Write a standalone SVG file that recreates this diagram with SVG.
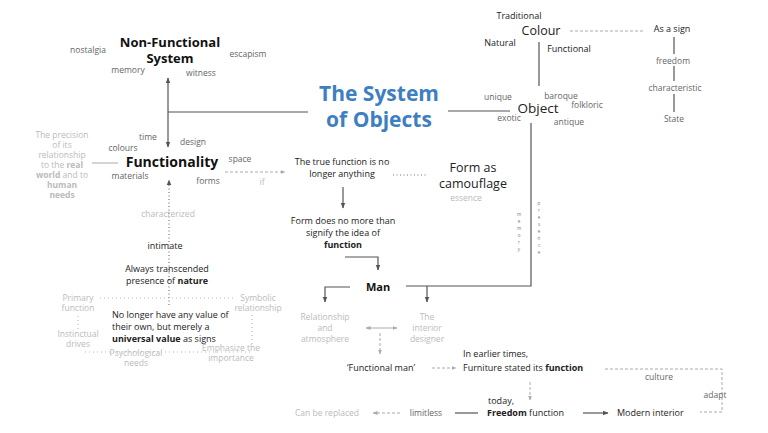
<svg xmlns="http://www.w3.org/2000/svg" width="768" height="433" viewBox="0 0 768 433">
<defs>
<marker id="a" viewBox="0 0 10 10" refX="9" refY="5" markerWidth="5" markerHeight="5" orient="auto-start-reverse"><path d="M0,1 L10,5 L0,9 z" fill="#555"/></marker>
<marker id="al" viewBox="0 0 10 10" refX="9" refY="5" markerWidth="5" markerHeight="5" orient="auto-start-reverse"><path d="M0,1 L10,5 L0,9 z" fill="#aaa"/></marker>
</defs>
<style>
text{font-family:"Open Sans",Inter,"Liberation Sans",sans-serif;text-anchor:middle}
.d{fill:#222;font-size:9px}.m{fill:#666;font-size:8.5px}.l{fill:#bbb;font-size:8.5px}.s{fill:#777;font-size:4.5px}
.b{font-weight:bold}.L{text-anchor:start}
.ln{stroke:#555;stroke-width:1.2;fill:none}.lg{stroke:#aaa;stroke-width:1;fill:none}
.dot{stroke:#777;stroke-width:1.2;stroke-dasharray:1 2.5;fill:none}.dotl{stroke:#bbb;stroke-width:1.2;stroke-dasharray:1 3;fill:none}
.dash{stroke:#aaa;stroke-width:1;stroke-dasharray:3 2;fill:none}
</style>
<rect width="768" height="433" fill="#fff"/>
<g id="connectors">
<path class="ln" d="M308,112 H168"/>
<path class="ln" d="M168,112 V78" marker-end="url(#a)"/>
<path class="ln" d="M168,112 V147" marker-end="url(#a)"/>
<path class="ln" d="M448,111 H510"/>
<path class="lg" d="M92,163 H118"/>
<path class="dash" d="M225,172 H285" marker-end="url(#al)"/>
<path class="dot" d="M169,305 V180" marker-end="url(#a)"/>
<path class="dotl" d="M100,298 H235 M78,316 V330 M85,352 H250 M252,315 V345"/>
<path class="dot" d="M393,175 H427"/>
<path class="ln" d="M343,187 V208" marker-end="url(#a)"/>
<path class="ln" d="M345,257 H378 V270" marker-end="url(#a)"/>
<path class="ln" d="M406,286 H531 V123"/>
<path class="ln" d="M427,286 V302" marker-end="url(#a)"/>
<path class="ln" d="M350,287 H325 V302" marker-end="url(#a)"/>
<path class="lg" d="M366,328 H397" marker-start="url(#al)" marker-end="url(#al)"/>
<path class="dash" d="M380,333 V354" marker-end="url(#al)"/>
<path class="dash" d="M432,368 H456" marker-end="url(#al)"/>
<path class="dash" d="M605,369 H722 V412 H700"/>
<path class="dash" d="M530,382 V400" marker-end="url(#al)"/>
<path class="ln" d="M583,413 H608" marker-end="url(#a)"/>
<path class="ln" d="M455,413 H478"/>
<path class="dash" d="M400,413 H373" marker-end="url(#al)"/>
<path class="ln" d="M539,42 V86"/>
<path class="dash" d="M570,31 H645"/>
<path class="ln" d="M674,37 V54 M674,66 V81 M674,94 V112"/>
</g>
<g id="title"><text x="379" y="101" font-size="21" class="b" fill="#3d7fc0">The System</text><text x="379" y="127" font-size="21" class="b" fill="#3d7fc0">of Objects</text></g>
<g id="nonfunctional">
<text x="170" y="47" font-size="13" class="b" fill="#111">Non-Functional</text><text x="170" y="63" font-size="13" class="b" fill="#111">System</text>
<text x="88" y="53" class="m">nostalgia</text><text x="248" y="57" class="m">escapism</text><text x="128" y="73" class="m">memory</text><text x="201" y="76" class="m">witness</text>
</g>
<g id="functionality">
<text x="148" y="140" class="m">time</text><text x="193" y="145" class="m">design</text><text x="123" y="151" class="m">colours</text>
<text x="172" y="167" font-size="14" class="b" fill="#111">Functionality</text>
<text x="240" y="162" class="m">space</text><text x="130" y="179" class="m">materials</text><text x="208" y="184" class="m">forms</text><text x="262" y="185" class="l">if</text>
<text class="l" font-size="8"><tspan x="62" y="138">The precision</tspan><tspan x="62" y="148">of its</tspan><tspan x="62" y="158">relationship</tspan><tspan x="62" y="168">to the <tspan class="b">real</tspan></tspan><tspan x="62" y="178"><tspan class="b">world</tspan> and to</tspan><tspan x="62" y="188" class="b">human</tspan><tspan x="62" y="198" class="b">needs</tspan></text>
</g>
<g id="nature">
<text x="168" y="217" class="l">characterized</text><text x="165" y="249" class="d" font-size="8.5">intimate</text>
<text x="167" y="272" class="d" font-size="8.5">Always transcended</text><text x="167" y="284" class="d" font-size="8.5">presence of <tspan class="b">nature</tspan></text>
<text x="78" y="301" class="l">Primary</text><text x="78" y="311" class="l">function</text>
<text x="258" y="301" class="l">Symbolic</text><text x="258" y="311" class="l">relationship</text>
<text x="78" y="337" class="l">Instinctual</text><text x="78" y="347" class="l">drives</text>
<text x="136" y="356" class="l">Psychological</text><text x="136" y="366" class="l">needs</text>
<text x="231" y="351" class="l">Emphasize the</text><text x="231" y="361" class="l">importance</text>
<text class="d L" font-size="8.5"><tspan x="112" y="318">No longer have any value of</tspan><tspan x="112" y="330">their own, but merely a</tspan><tspan x="112" y="342"><tspan class="b">universal value</tspan> as signs</tspan></text>
</g>
<g id="truefunction"><text x="342" y="165" class="d" font-size="8.5">The true function is no</text><text x="342" y="177" class="d" font-size="8.5">longer anything</text></g>
<g id="camouflage"><text x="473" y="172" font-size="12.5" fill="#222">Form as</text><text x="473" y="188" font-size="12.5" fill="#222">camouflage</text><text x="466" y="201" class="l" font-size="7.5">essence</text></g>
<g id="signify"><text x="343" y="224" class="d" font-size="8.5">Form does no more than</text><text x="343" y="236" class="d" font-size="8.5">signify the idea of</text><text x="343" y="248" class="d b" font-size="8.5">function</text></g>
<g id="man"><text x="378" y="291" font-size="11" class="b" fill="#111">Man</text></g>
<g id="vertical">
<text class="s"><tspan x="519" y="216">m</tspan><tspan x="519" y="223">e</tspan><tspan x="519" y="230">m</tspan><tspan x="519" y="237">o</tspan><tspan x="519" y="244">r</tspan><tspan x="519" y="251">y</tspan></text>
<text class="s"><tspan x="539" y="205">p</tspan><tspan x="539" y="212">r</tspan><tspan x="539" y="219">e</tspan><tspan x="539" y="226">s</tspan><tspan x="539" y="233">e</tspan><tspan x="539" y="240">n</tspan><tspan x="539" y="247">c</tspan><tspan x="539" y="254">e</tspan></text>
</g>
<g id="relationship"><text x="325" y="320" class="l">Relationship</text><text x="325" y="331" class="l">and</text><text x="325" y="342" class="l">atmosphere</text></g>
<g id="designer"><text x="427" y="320" class="l">The</text><text x="427" y="331" class="l">interior</text><text x="427" y="342" class="l">designer</text></g>
<g id="functionalman"><text x="381" y="371" class="d" font-size="9">‘Functional man’</text></g>
<g id="furniture"><text x="463" y="357" class="d L" font-size="8">In earlier times,</text><text x="463" y="371" class="d L" font-size="10">Furniture stated its <tspan class="b">function</tspan></text>
<text x="659" y="380" class="m">culture</text><text x="715" y="398" class="m">adapt</text></g>
<g id="freedom"><text x="488" y="404" class="d L" font-size="8">today,</text><text x="487" y="416" class="d L" font-size="10"><tspan class="b">Freedom</tspan> function</text></g>
<g id="modern"><text x="617" y="416" class="d L" font-size="10">Modern interior</text></g>
<g id="limitless"><text x="426" y="416" class="m">limitless</text><text x="327" y="416" class="l">Can be replaced</text></g>
<g id="colour">
<text x="519" y="19" class="d" font-size="8">Traditional</text><text x="541" y="35" font-size="12.5" fill="#222">Colour</text>
<text x="500" y="46" class="d" font-size="8">Natural</text><text x="569" y="52" class="d" font-size="8">Functional</text>
</g>
<g id="sign"><text x="672" y="32" class="d" font-size="8">As a sign</text><text x="673" y="64" class="m">freedom</text><text x="675" y="91" class="m">characteristic</text><text x="674" y="122" class="m">State</text></g>
<g id="object">
<text x="498" y="100" class="m">unique</text><text x="561" y="99" class="m">baroque</text><text x="538" y="113" font-size="13.5" fill="#222">Object</text>
<text x="587" y="108" class="m">folkloric</text><text x="509" y="121" class="m">exotic</text><text x="569" y="125" class="m">antique</text>
</g>
</svg>
